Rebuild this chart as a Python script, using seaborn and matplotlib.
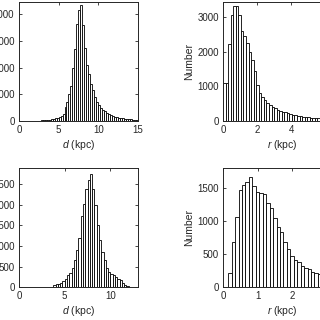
import numpy as np
import pandas as pd
import matplotlib
matplotlib.use("Agg")
import matplotlib.pyplot as plt
import seaborn as sns

sns.set_style("ticks")
plt.rcParams['font.family'] = ['Liberation Sans', 'DejaVu Sans']
plt.rcParams['mathtext.fontset'] = 'custom'
plt.rcParams['mathtext.it'] = 'Liberation Sans:italic'
plt.rcParams['mathtext.rm'] = 'Liberation Sans'

# top-left: d distribution, bins of 0.25 kpc starting at 0
d1_start, d1_width = 0.0, 0.25
d1_counts = [0, 0, 0,
             2, 3, 4, 5,
             8, 10, 13, 16,
             20, 25, 32, 40,
             50, 62, 78, 95,
             125, 160, 200, 260,
             520, 700, 1000, 1300,
             2000, 2700, 3650, 4150,
             4350, 3600, 2750, 2100,
             1750, 1400, 1150, 900,
             720, 600, 500, 420,
             360, 300, 255, 215,
             185, 160, 140, 122,
             108, 95, 84, 75,
             66, 58, 50, 42, 36]

# top-right: r distribution, bins of 0.15 kpc starting at 0
r1_start, r1_width = 0.0, 0.15
r1_counts = [1080, 1080, 2230, 3050, 3320, 3320, 3050, 2600, 2450, 2250,
             2000, 1750, 1450, 1050, 800, 680, 600, 530, 465, 415,
             370, 330, 300, 270, 245, 220, 200, 180, 165, 150,
             138, 126, 115, 105, 97, 90, 83, 77, 72, 67]

# bottom-left: d distribution, bins of 0.25 kpc starting at 3.75
d2_start, d2_width = 3.75, 0.25
d2_counts = [40, 65, 80, 105, 145, 205, 285, 340,
             470, 650, 895, 1200, 1720, 2030, 2400, 2600,
             2760, 2400, 2000, 1500, 1140, 850, 650, 470,
             365, 325, 285, 245, 205, 165, 105, 40, 15]

# bottom-right: r distribution, bins of 0.1 kpc starting at 0.15
r2_start, r2_width = 0.15, 0.1
r2_counts = [210, 675, 1060, 1460, 1550, 1585, 1665, 1535, 1435, 1420,
             1400, 1275, 1200, 1050, 910, 825, 675, 575, 475, 415,
             375, 325, 290, 275, 225, 210, 190, 170]

W, H = 0.372, 0.372
fig = plt.figure(figsize=(3.2, 3.2), dpi=100)
ax_tl = fig.add_axes([0.059, 0.622, W, H])
ax_tr = fig.add_axes([0.697, 0.622, W, H])
ax_bl = fig.add_axes([0.059, 0.103, W, H])
ax_br = fig.add_axes([0.697, 0.103, W, H])


def draw(ax, start, width, counts, xlim, ylim, xticks, yticks, xlabel, ylabel=None):
    n = len(counts)
    centers = start + width * (np.arange(n) + 0.5)
    df = pd.DataFrame({'x': centers, 'n': np.asarray(counts, dtype=float)})
    sns.histplot(data=df, x='x', weights='n', binwidth=width,
                 binrange=(start, start + width * n), ax=ax,
                 color='white', edgecolor='black', linewidth=0.6, alpha=1.0)
    ax.set_xlim(*xlim)
    ax.set_ylim(*ylim)
    ax.set_xticks(xticks)
    ax.set_yticks(yticks)
    ax.tick_params(direction='in', length=2.5, width=0.6, labelsize=7,
                   top=True, right=True, pad=3)
    for s in ax.spines.values():
        s.set_visible(True)
        s.set_linewidth(0.7)
    ax.set_xlabel(xlabel, fontsize=7.5, labelpad=2)
    ax.set_ylabel(ylabel if ylabel else '', fontsize=7.5, labelpad=2)


draw(ax_tl, d1_start, d1_width, d1_counts, (0, 15), (0, 4470), [0, 5, 10, 15],
     [0, 1000, 2000, 3000, 4000], r'$d$ (kpc)', 'Number')
draw(ax_tr, r1_start, r1_width, r1_counts, (0, 7), (0, 3430), [0, 2, 4, 6],
     [0, 1000, 2000, 3000], r'$r$ (kpc)', 'Number')
draw(ax_bl, d2_start, d2_width, d2_counts, (0, 13), (0, 2900), [0, 5, 10],
     [0, 500, 1000, 1500, 2000, 2500], r'$d$ (kpc)', 'Number')
draw(ax_br, r2_start, r2_width, r2_counts, (0, 3.45), (0, 1800), [0, 1, 2, 3],
     [0, 500, 1000, 1500], r'$r$ (kpc)', 'Number')

fig.savefig('out.png', dpi=100)
